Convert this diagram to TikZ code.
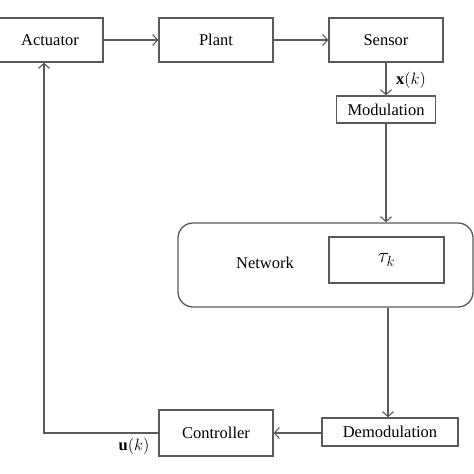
\RequirePackage{fix-cm}
\documentclass[tikz,border=0pt]{standalone}
\usepackage{amsmath,amssymb}
\usepackage{fontspec}
\setmainfont{Liberation Serif}
\usetikzlibrary{arrows.meta}
\definecolor{ln}{HTML}{5A5A5A}
\tikzset{
  blk/.style={draw=ln, line width=1.3pt, inner sep=0pt, align=center, font=\fontsize{16.5}{19}\selectfont},
  conn/.style={draw=ln, line width=1.3pt, -{Straight Barb[length=5pt,width=11pt,line width=1.1pt]}},
  lbl/.style={inner sep=0pt, font=\fontsize{16.5}{19}\selectfont}
}
\begin{document}
\begin{tikzpicture}[x=1pt,y=-1pt]
\useasboundingbox (0,0) rectangle (474,474);
\node[blk, minimum width=106pt, minimum height=44pt] (act) at (50,40) {Actuator};
\node[blk, minimum width=114pt, minimum height=44pt] (plant) at (216,40) {Plant};
\node[blk, minimum width=114pt, minimum height=44pt] (sens) at (386,40) {Sensor};
\node[blk, minimum width=99pt, minimum height=27pt] (mod) at (386,109.5) {Modulation};
\node[blk, minimum width=295pt, minimum height=84pt, rounded corners=15pt] (net) at (325.5,265) {};
\node[lbl] (nettxt) at (265,263) {Network};
\node[blk, minimum width=115pt, minimum height=46pt, font=\fontsize{21}{24}\selectfont] (tau) at (386.5,260) {$\tau_k$};
\node[blk, minimum width=136pt, minimum height=28pt] (demod) at (390,432) {Demodulation};
\node[blk, minimum width=114pt, minimum height=46pt] (ctrl) at (216,433) {Controller};
\node[lbl] (xk) at (411,80) {$\mathbf{x}(k)$};
\node[lbl] (uk) at (134,446) {$\mathbf{u}(k)$};
\coordinate (corner) at (44,433);
\draw[conn] (act.east) -- (plant.west);
\draw[conn] (plant.east) -- (sens.west);
\draw[conn] (sens.south) -- (sens.south |- mod.north);
\draw[conn] (mod.south) -- (mod.south |- net.north);
\draw[conn] (net.south -| 388,0) -- (388,0 |- demod.north);
\draw[conn] (demod.west |- ctrl.east) -- (ctrl.east);
\draw[conn] (ctrl.west) -- (corner) -- (corner |- act.south);
\end{tikzpicture}
\end{document}
